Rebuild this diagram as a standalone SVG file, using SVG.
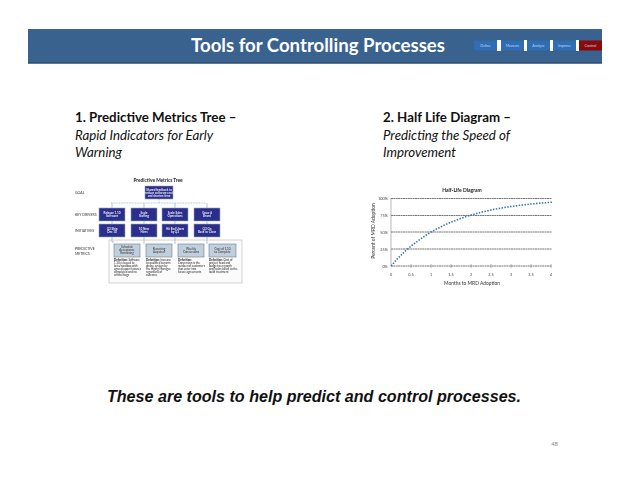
<svg xmlns="http://www.w3.org/2000/svg" width="638" height="493" viewBox="0 0 638 493">
<style>
text{font-family:Lato,"Liberation Sans",sans-serif}
.arial{font-family:"Liberation Sans",Arial,sans-serif}
.h{font-size:13.300px;fill:#111}
.i{font-style:italic}
.b{font-weight:700}
.tab{font-size:3.600px;fill:#c9d6ea;text-anchor:middle}
.lab{font-size:3.500px;fill:#333}
.nb{fill:#2b2f8c;stroke:#9aa3b5;stroke-width:.6}
.nt{font-size:3px;fill:#e8e8f5;text-anchor:middle;font-weight:700}
.pb{fill:#bfd0dc;stroke:#6e7f8c;stroke-width:.6}
.pt{font-size:3px;fill:#333;text-anchor:middle}
.d{font-size:2.900px;fill:#222}
.grid{stroke:#777;stroke-width:1}
.tick{font-size:3.800px;fill:#444;text-anchor:middle}
.conn{stroke:#8fb0cc;stroke-width:.7;fill:none}
</style>
<defs><filter id="s" x="-5%" y="-5%" width="110%" height="110%"><feGaussianBlur stdDeviation="0.35"/></filter></defs>
<rect width="638" height="493" fill="#fff"/>
<g id="header">
<rect x="28" y="29" width="574" height="34.500" fill="#39628f"/>
<rect x="28" y="62.500" width="574" height="1" fill="#26405f"/>
<text x="318" y="52" font-size="18.600" font-weight="700" fill="#fff" text-anchor="middle">Tools for Controlling Processes</text>
</g>
<g id="tabs">
<rect x="474" y="40.500" width="23" height="10" fill="#2f6db5"/><text class="tab" x="485.500" y="47">Define</text>
<rect x="497" y="40" width="4" height="11" fill="#fff"/>
<rect x="501" y="40.500" width="23" height="10" fill="#2f6db5"/><text class="tab" x="512.500" y="47">Measure</text>
<rect x="524" y="40" width="3" height="11" fill="#fff"/>
<rect x="527" y="40.500" width="23" height="10" fill="#2f6db5"/><text class="tab" x="538.500" y="47">Analyze</text>
<rect x="550" y="40" width="3" height="11" fill="#fff"/>
<rect x="553" y="40.500" width="23" height="10" fill="#2f6db5"/><text class="tab" x="564.500" y="47">Improve</text>
<rect x="576" y="40" width="3" height="11" fill="#fff"/>
<rect x="579" y="40.500" width="23" height="10" fill="#8a0a0a"/><text class="tab" x="590.500" y="47">Control</text>
</g>
<g id="left-heading">
<text class="h b" x="75" y="122">1. Predictive Metrics Tree –</text>
<text class="h i" x="75" y="139.500">Rapid Indicators for Early</text>
<text class="h i" x="75" y="157">Warning</text>
</g>
<g id="right-heading">
<text class="h b" x="383" y="122">2. Half Life Diagram –</text>
<text class="h i" x="383" y="139.500">Predicting the Speed of</text>
<text class="h i" x="383" y="157">Improvement</text>
</g>
<g id="tree" filter="url(#s)">
<text x="158" y="182" font-size="4.800" font-weight="700" fill="#222" text-anchor="middle">Predictive Metrics Tree</text>
<text class="lab" x="75" y="194">GOAL</text>
<text class="lab" x="75" y="216">KEY DRIVERS</text>
<text class="lab" x="75" y="232">INITIATIVES</text>
<text class="lab" x="75" y="250">PREDICTIVE</text>
<text class="lab" x="75" y="255">METRICS</text>
<g id="connectors">
<path class="conn" d="M159 199V203M111 203H206" stroke-dasharray="1 .6"/>
<path class="conn" d="M112 203V208M144 203V208M175 203V208M207 203V208M112 221V224M144 221V224M175 221V224M207 221V224M112 237V240M144 237V240M175 237V240M207 237V240"/>
</g>
<g id="goal"><rect class="nb" x="145" y="186" width="28" height="13"/><text class="nt" x="159" y="190.500">Shared feedback to</text><text class="nt" x="159" y="193.500">reduce software cost</text><text class="nt" x="159" y="196.500">and shorten time</text></g>
<g id="driver1"><rect class="nb" x="99" y="208" width="26" height="13"/><text class="nt" x="112" y="213.500">Release 1.10</text><text class="nt" x="112" y="217">Software</text></g>
<g id="driver2"><rect class="nb" x="131" y="208" width="26" height="13"/><text class="nt" x="144" y="213.500">Scale</text><text class="nt" x="144" y="217">Staffing</text></g>
<g id="driver3"><rect class="nb" x="162" y="208" width="26" height="13"/><text class="nt" x="175" y="213.500">Scale Sales</text><text class="nt" x="175" y="217">Operations</text></g>
<g id="driver4"><rect class="nb" x="194" y="208" width="26" height="13"/><text class="nt" x="207" y="213.500">Grow #</text><text class="nt" x="207" y="217">Brand</text></g>
<g id="init1"><rect class="nb" x="99" y="224" width="26" height="13"/><text class="nt" x="112" y="229.500">Q3 Ship</text><text class="nt" x="112" y="233">Dec 10</text></g>
<g id="init2"><rect class="nb" x="131" y="224" width="26" height="13"/><text class="nt" x="144" y="229.500">10 New</text><text class="nt" x="144" y="233">Hires</text></g>
<g id="init3"><rect class="nb" x="162" y="224" width="26" height="13"/><text class="nt" x="175" y="229.500">Hit End Users</text><text class="nt" x="175" y="233">by Q3</text></g>
<g id="init4"><rect class="nb" x="194" y="224" width="26" height="13"/><text class="nt" x="207" y="229.500">Q3 Go</text><text class="nt" x="207" y="233">Back to Close</text></g>
<rect x="109" y="240" width="133" height="43" fill="#fbfbfb" stroke="#b5b5b5" stroke-width=".6"/>
<path class="conn" d="M112 240V242H114M144 240V244M175 240V244M207 240V244"/>
<g id="metric1"><rect class="pb" x="114" y="244" width="26" height="13"/><text class="pt" x="127" y="248">Schedule</text><text class="pt" x="127" y="251">Acceptance</text><text class="pt" x="127" y="254">Remaining</text></g>
<g id="metric2"><rect class="pb" x="146" y="244" width="26" height="13"/><text class="pt" x="159" y="249.500">Recurring</text><text class="pt" x="159" y="253">Acquired</text></g>
<g id="metric3"><rect class="pb" x="178" y="244" width="26" height="13"/><text class="pt" x="191" y="249.500">Weekly</text><text class="pt" x="191" y="253">Conversions</text></g>
<g id="metric4"><rect class="pb" x="209" y="244" width="27" height="13"/><text class="pt" x="222.500" y="249.500">Cost of 1.10</text><text class="pt" x="222.500" y="253">to Complete</text></g>
<g id="defs1"><text class="d" x="114" y="261"><tspan font-weight="700">Definition:</tspan> Software</text><text class="d" x="114" y="264">1.10 released to</text><text class="d" x="114" y="267">beta/sandbox with</text><text class="d" x="114" y="270">agreed upon features</text><text class="d" x="114" y="273">completed and no</text><text class="d" x="114" y="276">critical bugs</text></g>
<g id="defs2"><text class="d" x="146" y="261"><tspan font-weight="700">Definition:</tspan> Increase</text><text class="d" x="146" y="264">to qualified tenants</text><text class="d" x="146" y="267">phone system by</text><text class="d" x="146" y="270">the Hiring Manager,</text><text class="d" x="146" y="273">regardless of</text><text class="d" x="146" y="276">outcome</text></g>
<g id="defs3"><text class="d" x="178" y="261"><tspan font-weight="700">Definition:</tspan></text><text class="d" x="178" y="264">Conversion is the</text><text class="d" x="178" y="267">number of customers</text><text class="d" x="178" y="270">that enter into</text><text class="d" x="178" y="273">future agreements</text></g>
<g id="defs4"><text class="d" x="209" y="261"><tspan font-weight="700">Definition:</tspan> Cost of</text><text class="d" x="209" y="264">project head and</text><text class="d" x="209" y="267">budget per month</text><text class="d" x="209" y="270">and hours billed to the</text><text class="d" x="209" y="273">build treatment</text></g>
</g>
<g id="chart" filter="url(#s)">
<text x="462" y="191.500" font-size="5" font-weight="700" fill="#222" text-anchor="middle">Half-Life Diagram</text>
<path class="grid" d="M391 198.500H552M391 215.500H552M391 232H552M391 249H552M391 266H552" stroke-dasharray="2 .4"/>
<path d="M391 266V198M411 264V268M431 264V268M451 264V268M471 264V268M491 264V268M511 264V268M531 264V268M551 264V268" stroke="#888" stroke-width=".6"/>
<text class="tick" x="383" y="199.500">100%</text>
<text class="tick" x="384" y="216.500">75%</text>
<text class="tick" x="384" y="233.500">50%</text>
<text class="tick" x="384" y="250.500">25%</text>
<text class="tick" x="385" y="267.500">0%</text>
<text class="tick" x="391" y="276">0</text><text class="tick" x="411" y="276">0.5</text><text class="tick" x="431" y="276">1</text><text class="tick" x="451" y="276">1.5</text><text class="tick" x="471" y="276">2</text><text class="tick" x="491" y="276">2.5</text><text class="tick" x="511" y="276">3</text><text class="tick" x="531" y="276">3.5</text><text class="tick" x="551" y="276">4</text>
<text x="472" y="284.500" font-size="4.900" fill="#333" text-anchor="middle">Months to MRD Adoption</text>
<text transform="translate(374.500 231) rotate(-90)" font-size="4.900" fill="#333" text-anchor="middle">Percent of MRD Adoption</text>
<polyline points="391,266 396,260.300 401,255.200 406,250.400 411,246.100 421,238.600 431,232 441,226.700 451,222.100 461,218.300 471,215 481,212.300 491,210 501,208 511,206.500 521,205.200 531,204 541,203.100 552,202.200" fill="none" stroke="#3f76b5" stroke-width="1.600" stroke-dasharray="1.500 1.400"/>
</g>
<text class="arial" x="314" y="402" font-size="16.100" font-weight="700" font-style="italic" fill="#111" text-anchor="middle">These are tools to help predict and control processes.</text>
<text class="arial" x="554.500" y="445.500" font-size="6" fill="#888" text-anchor="middle">48</text>
</svg>
